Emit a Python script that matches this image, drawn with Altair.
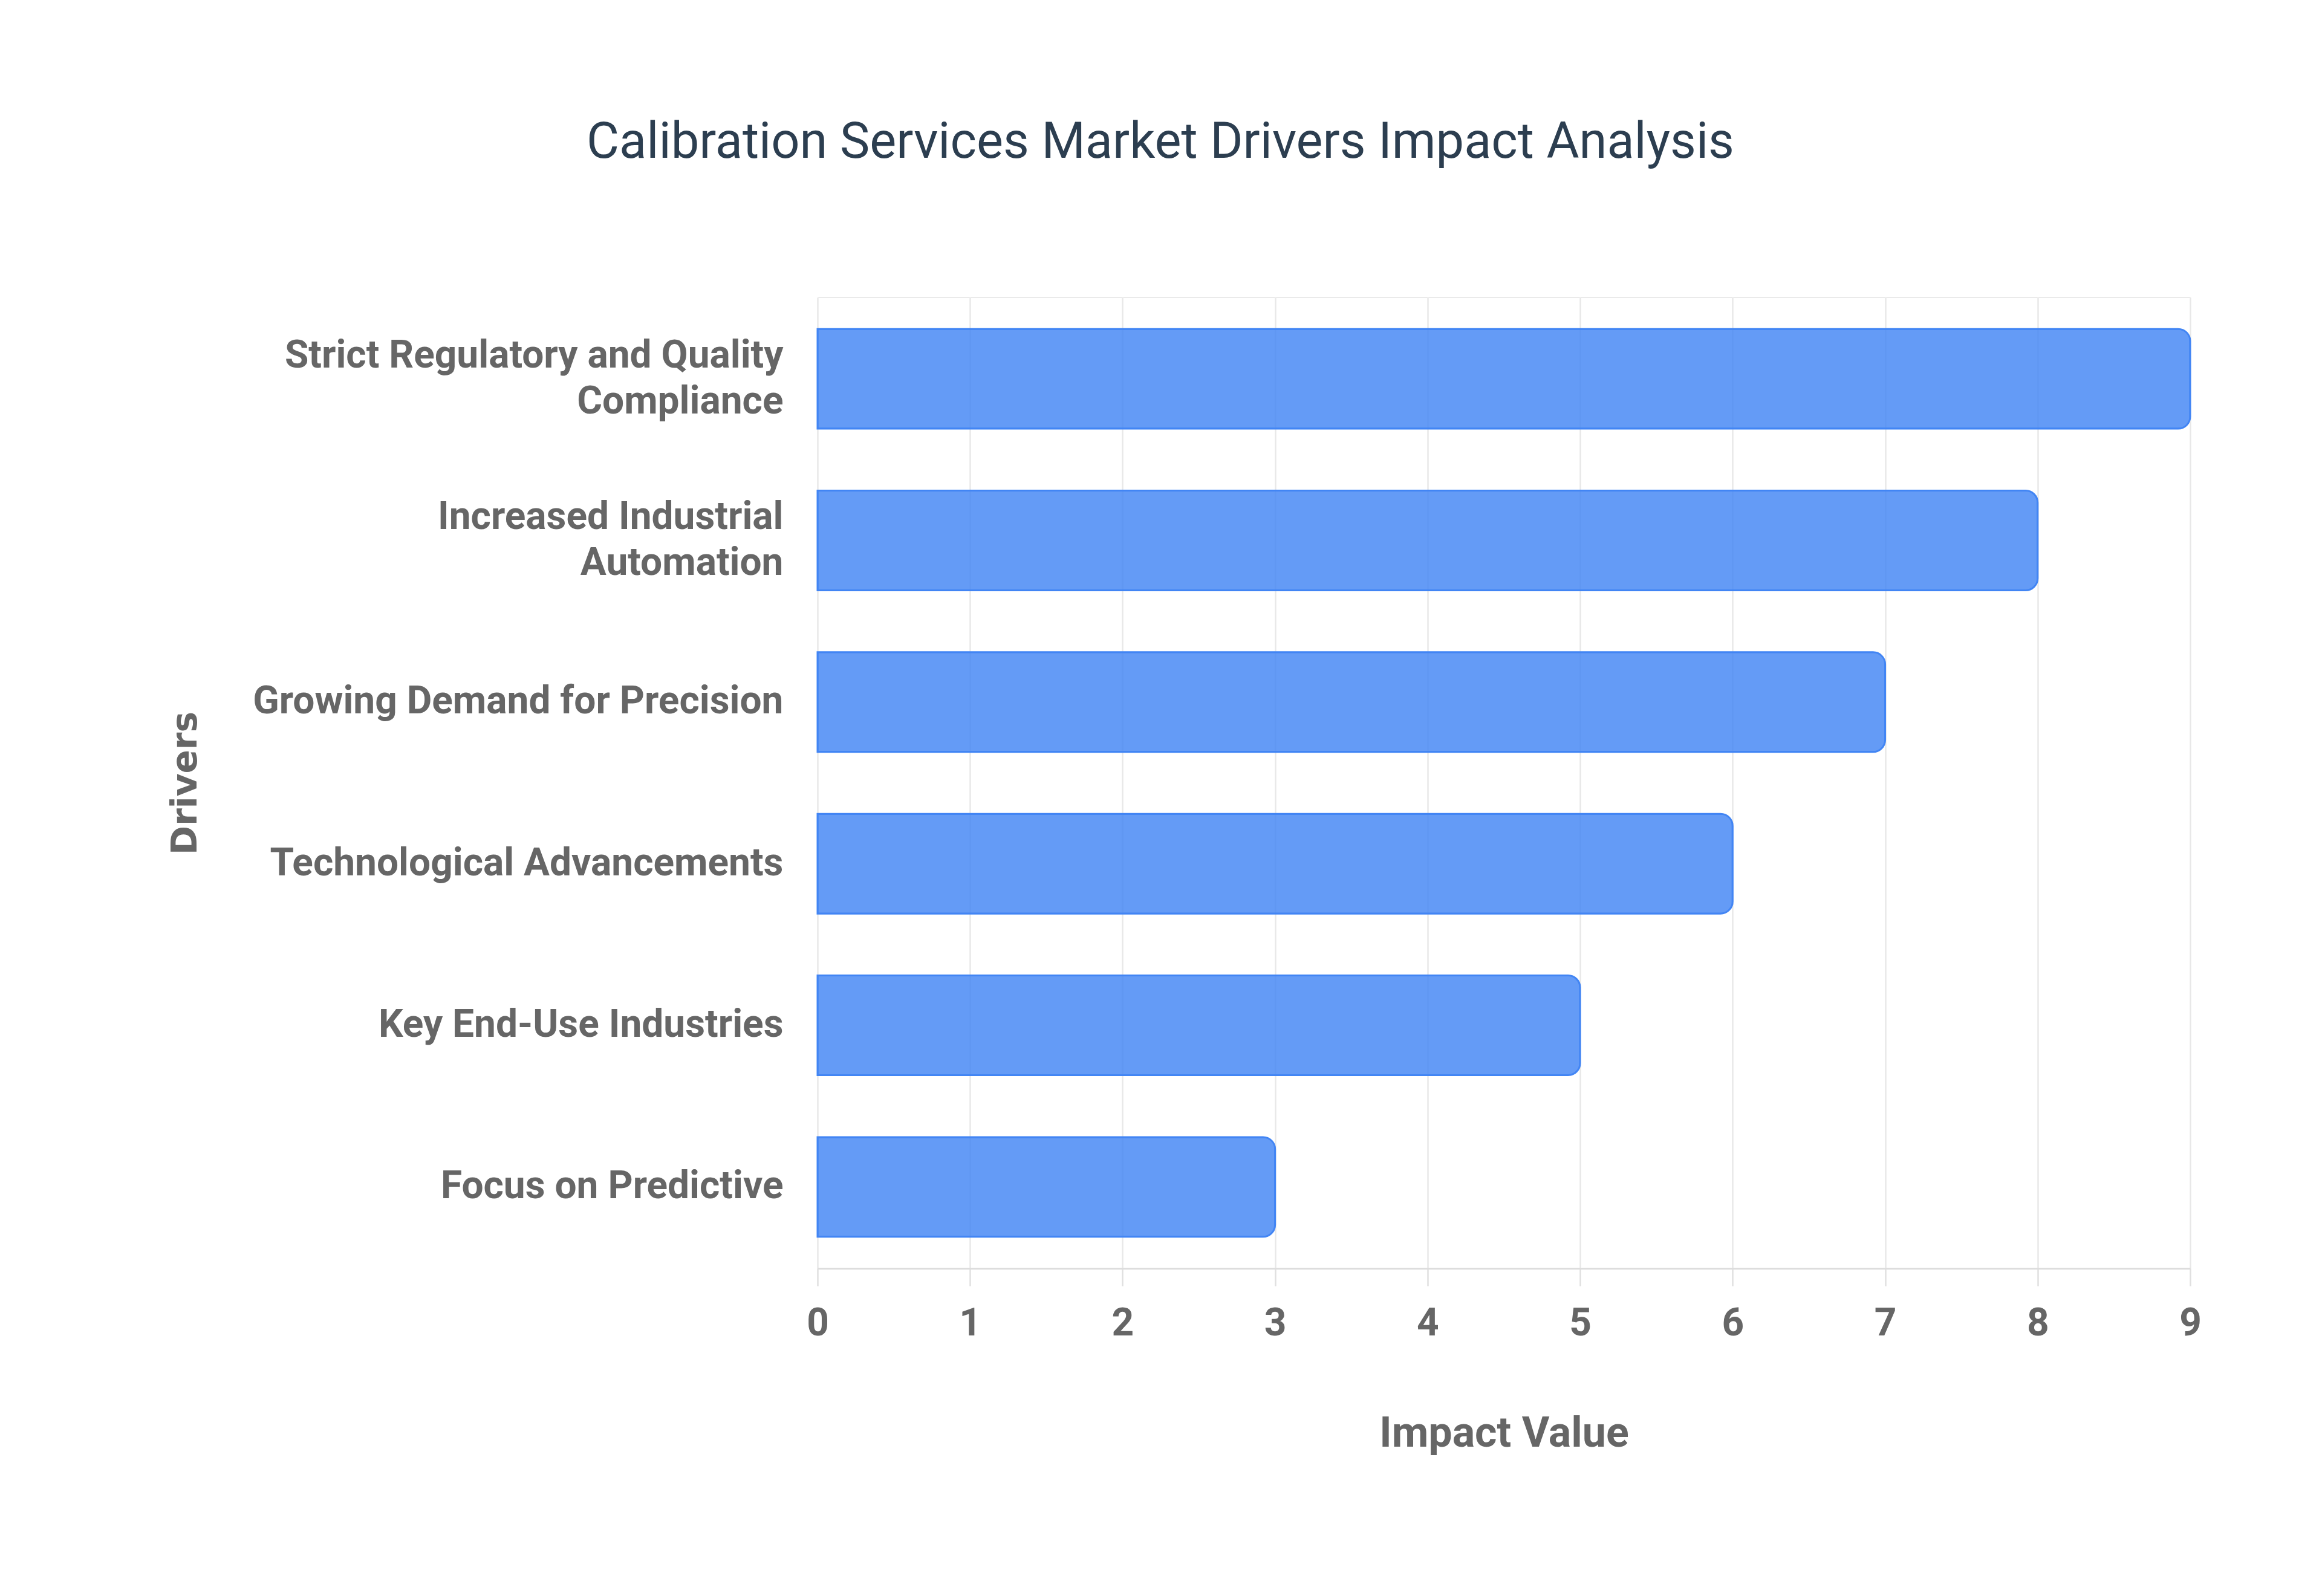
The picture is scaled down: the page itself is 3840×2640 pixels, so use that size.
import altair as alt
import pandas as pd

drivers = [
    "Strict Regulatory and Quality\nCompliance",
    "Increased Industrial\nAutomation",
    "Growing Demand for Precision",
    "Technological Advancements",
    "Key End-Use Industries",
    "Focus on Predictive",
]
impact = [9, 8, 7, 6, 5, 3]
x_ticks = [0, 1, 2, 3, 4, 5, 6, 7, 8, 9]

df = pd.DataFrame({"Driver": drivers, "Impact": impact})

GRAY = "#666666"

chart = (
    alt.Chart(df)
    .mark_bar(
        color="#4285F4",
        fillOpacity=0.82,
        stroke="#4285F4",
        strokeWidth=3,
        cornerRadiusEnd=20,
    )
    .encode(
        x=alt.X(
            "Impact:Q",
            title="Impact Value",
            scale=alt.Scale(domain=[0, 9], nice=False),
            axis=alt.Axis(
                values=x_ticks,
                format="d",
                labelFont="Roboto",
                labelFontSize=64,
                labelFontWeight="bold",
                labelColor=GRAY,
                labelPadding=30,
                labelFlush=False,
                tickColor="#e0e0e0",
                tickSize=29,
                tickWidth=2.5,
                domainColor="#dddddd",
                domainWidth=3,
                gridColor="#e8e8e8",
                gridWidth=2.5,
                titleFont="Roboto",
                titleFontSize=70,
                titleFontWeight="bold",
                titleColor=GRAY,
                titleBaseline="middle",
                titleY=273,
            ),
        ),
        y=alt.Y(
            "Driver:N",
            title="Drivers",
            sort=drivers,
            scale=alt.Scale(paddingInner=0.383, paddingOuter=0.195),
            axis=alt.Axis(
                labelExpr="split(datum.label, '\\n')",
                labelFont="Roboto",
                labelFontSize=64,
                labelFontWeight="bold",
                labelColor=GRAY,
                labelLineHeight=76,
                labelPadding=57,
                labelLimit=2000,
                labelOffset={
                    "condition": {"test": "indexof(datum.value, '\\n') >= 0", "value": -38},
                    "value": 0,
                },
                ticks=False,
                domain=False,
                grid=False,
                titleFont="DejaVu Sans",
                titleFontSize=58,
                titleFontWeight="bold",
                titleColor=GRAY,
                titleAngle=270,
                titleBaseline="middle",
                titleAlign="center",
                titleX=-1045,
                titleY=803,
            ),
        ),
    )
    .properties(
        width=2270,
        height=1606,
        autosize=alt.AutoSizeParams(type="none"),
        padding={"left": 1344, "top": 484, "right": 200, "bottom": 520},
        title=alt.TitleParams(
            "Calibration Services Market Drivers Impact Analysis",
            font="Roboto",
            fontSize=83,
            fontWeight="normal",
            color="#2c3e50",
            anchor="middle",
            dx=-568,
            offset=148,
            baseline="alphabetic",
        ),
    )
    .configure_view(stroke=None)
    .configure(background="white")
)

chart.save("out.html", embed_options={"renderer": "svg", "actions": False})
